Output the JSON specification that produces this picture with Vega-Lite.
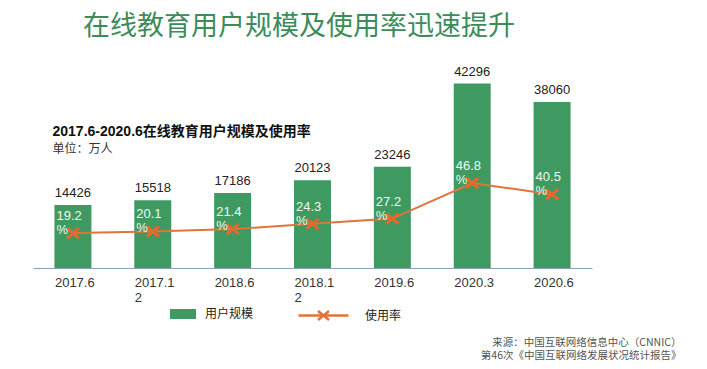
{
  "$schema": "https://vega.github.io/schema/vega-lite/v6.json",
  "width": 559,
  "height": 218,
  "autosize": {"type": "none"},
  "padding": {"left": 33, "top": 50, "right": 115, "bottom": 101},
  "background": "white",
  "config": {"view": {"stroke": null}, "font": "Liberation Sans, Noto Sans CJK SC"},
  "title": {
    "text": "在线教育用户规模及使用率迅速提升",
    "anchor": "start",
    "frame": "group",
    "dx": 50,
    "offset": 9,
    "fontSize": 27,
    "font": "Noto Sans CJK SC",
    "fontWeight": "normal",
    "color": "#3b8c59"
  },
  "data": {
    "values": [
      {"period": "2017.6", "users": 14426, "rate": 19.2},
      {"period": "2017.12", "users": 15518, "rate": 20.1},
      {"period": "2018.6", "users": 17186, "rate": 21.4},
      {"period": "2018.12", "users": 20123, "rate": 24.3},
      {"period": "2019.6", "users": 23246, "rate": 27.2},
      {"period": "2020.3", "users": 42296, "rate": 46.8},
      {"period": "2020.6", "users": 38060, "rate": 40.5}
    ]
  },
  "transform": [{"calculate": "format(datum.rate, '.1f') + '\\n%'", "as": "rateLabel"}],
  "encoding": {
    "x": {
      "field": "period",
      "type": "ordinal",
      "sort": null,
      "scale": {"paddingInner": 0.537, "paddingOuter": 0.2685},
      "axis": {
        "domainColor": "#8da3b3",
        "domainWidth": 1,
        "ticks": false,
        "grid": false,
        "labelAngle": 0,
        "labelAlign": "left",
        "labelOffset": -18,
        "labelBaseline": "top",
        "labelPadding": 8,
        "labelFontSize": 13,
        "labelColor": "#333333",
        "labelLineHeight": 15,
        "labelExpr": "length(datum.label) > 6 ? [slice(datum.label, 0, 6), slice(datum.label, 6)] : datum.label",
        "title": ["来源：中国互联网络信息中心（CNNIC）", "第46次《中国互联网络发展状况统计报告》"],
        "titleX": 648,
        "titleY": 77.5,
        "titleAlign": "right",
        "titleAnchor": null,
        "titleBaseline": "alphabetic",
        "titleFont": "Noto Sans CJK SC",
        "titleFontSize": 10.5,
        "titleFontWeight": "normal",
        "titleColor": "#555555",
        "titleLineHeight": 12.8
      }
    }
  },
  "layer": [
    {
      "encoding": {
        "y": {
          "field": "users",
          "type": "quantitative",
          "scale": {"domain": [0, 50000]},
          "axis": {
            "orient": "left",
            "domain": false,
            "ticks": false,
            "labels": false,
            "grid": false,
            "title": "2017.6-2020.6在线教育用户规模及使用率",
            "titleAngle": 0,
            "titleX": 19,
            "titleY": 85,
            "titleAlign": "left",
            "titleAnchor": null,
            "titleBaseline": "alphabetic",
            "titleFontSize": 14,
            "titleFontWeight": "bold",
            "titleColor": "#111111"
          }
        }
      },
      "layer": [
        {
          "mark": {"type": "bar"},
          "encoding": {
            "fill": {
              "datum": "用户规模",
              "scale": {"range": ["#3f9a62"]},
              "legend": {
                "orient": "none",
                "legendX": 137,
                "legendY": 251,
                "title": null,
                "padding": 0,
                "symbolType": "M-1,-0.385H1V0.385H-1Z",
                "symbolSize": 676,
                "symbolStrokeWidth": 0,
                "labelFont": "Noto Sans CJK SC",
                "labelFontSize": 12,
                "labelColor": "#222222",
                "labelOffset": 9
              }
            }
          }
        },
        {
          "mark": {"type": "text", "baseline": "alphabetic", "dy": -8, "fontSize": 13, "color": "#222222"},
          "encoding": {"text": {"field": "users", "type": "quantitative", "format": "d"}}
        }
      ]
    },
    {
      "encoding": {
        "y": {
          "field": "rate",
          "type": "quantitative",
          "scale": {"domain": [0, 120]},
          "axis": {
            "orient": "right",
            "domain": false,
            "ticks": false,
            "labels": false,
            "grid": false,
            "title": "单位：万人",
            "titleAngle": 0,
            "titleX": -540,
            "titleY": 102,
            "titleAlign": "left",
            "titleAnchor": null,
            "titleBaseline": "alphabetic",
            "titleFont": "Noto Sans CJK SC",
            "titleFontSize": 12,
            "titleFontWeight": "normal",
            "titleColor": "#333333"
          }
        }
      },
      "layer": [
        {
          "mark": {"type": "line", "strokeWidth": 2},
          "encoding": {
            "stroke": {
              "datum": "使用率",
              "scale": {"range": ["#e2733a"]},
              "legend": {
                "orient": "none",
                "legendX": 264,
                "legendY": 239,
                "title": null,
                "padding": 0,
                "symbolType": "M-1,0H1M-0.22,-0.18L0.22,0.18M-0.22,0.18L0.22,-0.18",
                "symbolSize": 2500,
                "symbolStrokeWidth": 2.5,
                "symbolFillColor": "transparent",
                "labelFont": "Noto Sans CJK SC",
                "labelFontSize": 12,
                "labelColor": "#222222",
                "labelOffset": 15
              }
            }
          }
        },
        {
          "mark": {"type": "point", "shape": "M-1.2,-1L1.2,1M-1.2,1L1.2,-1", "size": 100, "strokeWidth": 3, "filled": false, "color": "#e8672b", "opacity": 1},
          "encoding": {}
        },
        {
          "mark": {"type": "text", "align": "left", "baseline": "bottom", "dx": 2, "dy": -10, "fontSize": 13, "lineBreak": "\n", "lineHeight": 14, "color": "#eef8f0"},
          "encoding": {
            "x": {"field": "period", "type": "ordinal", "sort": null, "bandPosition": 0},
            "text": {"field": "rateLabel"}
          }
        }
      ]
    }
  ],
  "resolve": {"scale": {"y": "independent"}}
}
